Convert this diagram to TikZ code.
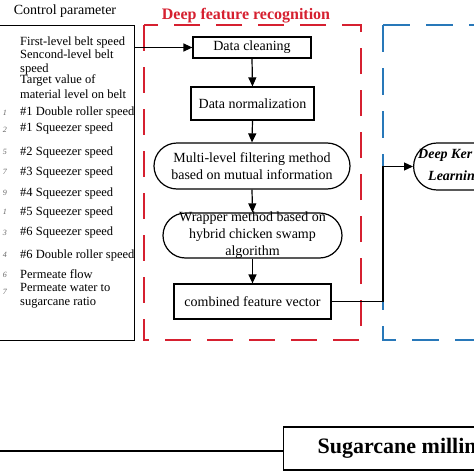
\documentclass[tikz,border=0pt]{standalone}
\usepackage{fontspec}
\setmainfont{Liberation Serif}
\usetikzlibrary{arrows.meta,shapes.misc}
\definecolor{dred}{RGB}{214,32,48}
\definecolor{dblue}{RGB}{40,120,185}
\begin{document}
\begin{tikzpicture}[x=1pt,y=-1pt,
  box/.style={draw,line width=1.2pt,inner sep=0pt,font=\fontsize{14}{17}\selectfont,align=center},
  stad/.style={draw,line width=1.2pt,inner sep=0pt,rounded rectangle},
  lbl/.style={inner sep=0pt,font=\fontsize{14}{17}\selectfont,align=center},
  arr/.style={line width=1.2pt,-{Triangle[length=9pt,width=8pt]}},
  conn/.style={line width=1.2pt},
  item/.style={anchor=west,inner sep=0pt,font=\fontsize{12.5}{14}\selectfont},
  subd/.style={anchor=east,inner sep=0pt,font=\fontsize{8}{9}\selectfont\itshape,text=black!60},
  reddash/.style={draw=dred,line width=1.3pt,dash pattern=on 26pt off 16pt},
  bluedash/.style={draw=dblue,line width=1.3pt,dash pattern=on 27pt off 16pt}]
\clip (0,0) rectangle (474,474);
\fill[white] (0,0) rectangle (474,474);

% dashed frames
\draw[reddash] (144,25) rectangle (361,340);
\draw[bluedash] (383,25) -- (383,340) -- (620,340);
\draw[bluedash] (383,25) -- (620,25);

% titles
\node[anchor=base,inner sep=0pt,font=\fontsize{14}{16}\selectfont] (cp) at (65,14.5) {Control parameter};
\node[anchor=base,inner sep=0pt,text=dred,font=\fontsize{16}{18}\selectfont\bfseries] (dfr) at (246,19.5) {Deep feature recognition};

% control parameter box
\node[draw,line width=1.3pt,inner sep=0pt,anchor=north east,minimum width=150pt,minimum height=315pt] (ctrl) at (135,25) {};
\foreach \t/\yy [count=\i] in {First-level belt speed/42, Sencond-level belt/54, speed/69, Target value of/80, material level on belt/94, \#1 Double roller speed/112, \#1 Squeezer speed/128, \#2 Squeezer speed/152, \#3 Squeezer speed/172, \#4 Squeezer speed/193, \#5 Squeezer speed/212, \#6 Squeezer speed/232, \#6 Double roller speed/255, Permeate flow/274, Permeate water to/287, sugarcane ratio/303}
  \node[item] (it\i) at (20,\yy) {\t};
\foreach \d/\yy [count=\i] in {1/113,2/130,5/152,7/172,9/193,1/212,3/233,4/255,6/275,7/292}
  \node[subd] (sb\i) at (7,\yy) {\d};

% deep feature recognition chain
\node[box,minimum width=118pt,minimum height=21pt] (dc) at (252,47.5) {Data cleaning};
\node[box,minimum width=123pt,minimum height=33pt] (dn) at (252.5,103.5) {Data normalization};
\node[stad,minimum width=196pt,minimum height=46pt] (mf) at (252,166) {};
\node[lbl] (mft) at (mf.center) {Multi-level filtering method\\based on mutual information};
\node[stad,minimum width=179pt,minimum height=45pt] (wm) at (252.5,235.5) {};
\node[lbl] (wmt) at (wm.center) {Wrapper method based on\\hybrid chicken swamp\\algorithm};
\node[box,minimum width=157pt,minimum height=35pt] (cfv) at (252.5,301.5) {combined feature vector};

% deep kernel learning
\node[stad,minimum width=160pt,minimum height=47pt,anchor=west] (dkl) at (413,166.5) {};
\node[anchor=west,inner sep=0pt,font=\fontsize{14}{16}\selectfont\bfseries\itshape] (dk1) at (418,155) {Deep Ker};
\node[anchor=west,inner sep=0pt,font=\fontsize{14}{16}\selectfont\bfseries\itshape] (dk2) at (428,176) {Learnin};

% sugarcane milling
\node[draw,line width=1.2pt,anchor=west,inner xsep=34pt,inner ysep=0pt,minimum height=43pt,font=\fontsize{22}{25}\selectfont\bfseries] (mill) at (283,448.5) {Sugarcane milling};
\coordinate (bl) at (-5,451);
\draw[conn] (bl) -- (bl -| mill.west);

% connectors
\draw[arr] (ctrl.east |- dc.west) -- (dc.west);
\draw[arr] (dc.south) -- (dn.north);
\draw[arr] (dn.south) -- (mf.north);
\draw[arr] (mf.south) -- (wm.north);
\draw[arr] (wm.south) -- (cfv.north);
\coordinate (turn) at (383,302);
\draw[arr] (cfv.east) -- (cfv.east -| turn) -- (turn |- dkl.west) -- (dkl.west);
\end{tikzpicture}
\end{document}
